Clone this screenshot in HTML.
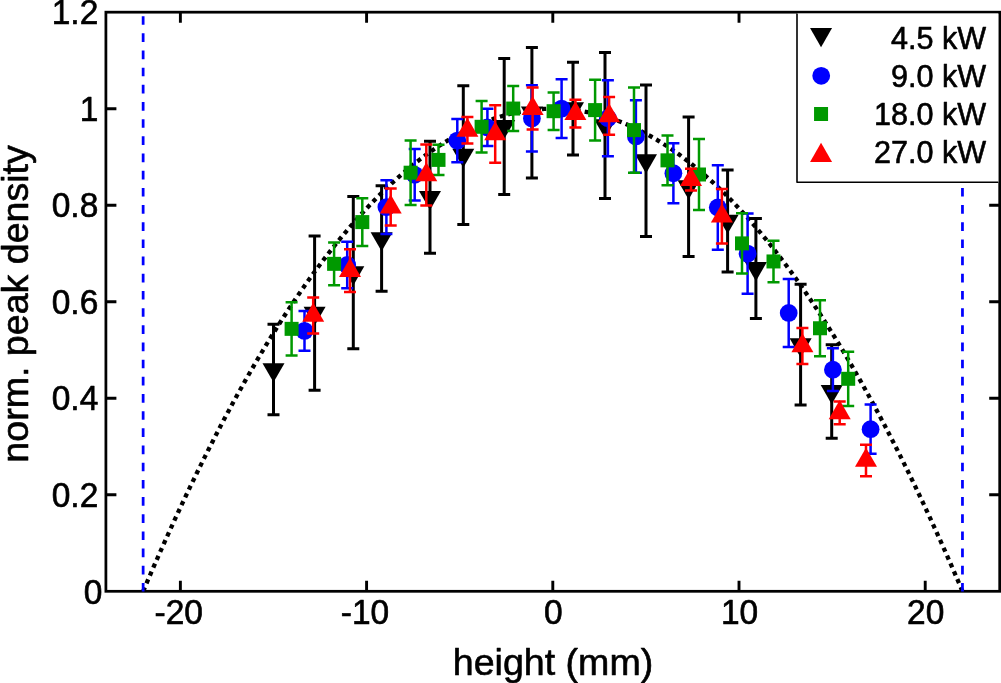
<!DOCTYPE html>
<html><head><meta charset="utf-8"><title>norm. peak density vs height</title>
<style>html,body{margin:0;padding:0;background:#fff;overflow:hidden}svg{display:block}</style></head>
<body>
<svg width="1001" height="683" viewBox="0 0 1001 683" font-family="'Liberation Sans', sans-serif" fill="#000">
<rect width="1001" height="683" fill="#fff"/>
<rect x="105.90" y="12.18" width="893.81" height="579.12" fill="none" stroke="#000" stroke-width="2.75"/>
<path d="M180.38 591.3v-10.5M180.38 12.18v10.5M366.59 591.3v-10.5M366.59 12.18v10.5M552.80 591.3v-10.5M552.80 12.18v10.5M739.01 591.3v-10.5M739.01 12.18v10.5M925.22 591.3v-10.5M105.90 494.78h10.5M999.70 494.78h-10.5M105.90 398.26h10.5M999.70 398.26h-10.5M105.90 301.74h10.5M999.70 301.74h-10.5M105.90 205.22h10.5M999.70 205.22h-10.5M105.90 108.70h10.5" stroke="#000" stroke-width="2.9" fill="none"/>
<polyline points="143.14,591.30 145.19,586.49 147.23,581.70 149.28,576.93 151.33,572.19 153.38,567.47 155.43,562.78 157.48,558.11 159.52,553.46 161.57,548.84 163.62,544.25 165.67,539.67 167.72,535.13 169.77,530.60 171.81,526.10 173.86,521.62 175.91,517.17 177.96,512.74 180.01,508.34 182.06,503.96 184.10,499.61 186.15,495.27 188.20,490.97 190.25,486.68 192.30,482.43 194.35,478.19 196.39,473.98 198.44,469.79 200.49,465.63 202.54,461.49 204.59,457.38 206.64,453.29 208.68,449.22 210.73,445.18 212.78,441.16 214.83,437.17 216.88,433.20 218.93,429.25 220.97,425.33 223.02,421.44 225.07,417.56 227.12,413.72 229.17,409.89 231.22,406.09 233.26,402.31 235.31,398.56 237.36,394.83 239.41,391.13 241.46,387.45 243.51,383.79 245.55,380.16 247.60,376.56 249.65,372.97 251.70,369.41 253.75,365.88 255.80,362.37 257.84,358.88 259.89,355.42 261.94,351.98 263.99,348.56 266.04,345.17 268.08,341.81 270.13,338.47 272.18,335.15 274.23,331.85 276.28,328.58 278.33,325.34 280.37,322.12 282.42,318.92 284.47,315.75 286.52,312.60 288.57,309.47 290.62,306.37 292.66,303.30 294.71,300.24 296.76,297.22 298.81,294.21 300.86,291.23 302.91,288.28 304.95,285.34 307.00,282.44 309.05,279.55 311.10,276.69 313.15,273.86 315.20,271.05 317.24,268.26 319.29,265.50 321.34,262.76 323.39,260.04 325.44,257.35 327.49,254.69 329.53,252.04 331.58,249.43 333.63,246.83 335.68,244.26 337.73,241.72 339.78,239.20 341.82,236.70 343.87,234.22 345.92,231.78 347.97,229.35 350.02,226.95 352.07,224.57 354.11,222.22 356.16,219.89 358.21,217.59 360.26,215.31 362.31,213.05 364.36,210.82 366.40,208.61 368.45,206.43 370.50,204.27 372.55,202.13 374.60,200.02 376.65,197.93 378.69,195.87 380.74,193.83 382.79,191.82 384.84,189.83 386.89,187.86 388.94,185.92 390.98,184.00 393.03,182.10 395.08,180.23 397.13,178.39 399.18,176.57 401.23,174.77 403.27,172.99 405.32,171.24 407.37,169.52 409.42,167.82 411.47,166.14 413.51,164.49 415.56,162.86 417.61,161.26 419.66,159.67 421.71,158.12 423.76,156.59 425.80,155.08 427.85,153.59 429.90,152.13 431.95,150.70 434.00,149.29 436.05,147.90 438.09,146.54 440.14,145.20 442.19,143.88 444.24,142.59 446.29,141.32 448.34,140.08 450.38,138.86 452.43,137.67 454.48,136.50 456.53,135.35 458.58,134.23 460.63,133.13 462.67,132.06 464.72,131.01 466.77,129.98 468.82,128.98 470.87,128.00 472.92,127.05 474.96,126.12 477.01,125.22 479.06,124.34 481.11,123.48 483.16,122.65 485.21,121.84 487.25,121.05 489.30,120.29 491.35,119.56 493.40,118.85 495.45,118.16 497.50,117.50 499.54,116.86 501.59,116.24 503.64,115.65 505.69,115.08 507.74,114.54 509.79,114.02 511.83,113.53 513.88,113.06 515.93,112.61 517.98,112.19 520.03,111.79 522.08,111.41 524.12,111.06 526.17,110.74 528.22,110.44 530.27,110.16 532.32,109.91 534.37,109.68 536.41,109.47 538.46,109.29 540.51,109.13 542.56,109.00 544.61,108.89 546.66,108.81 548.70,108.75 550.75,108.71 552.80,108.70 554.85,108.71 556.90,108.75 558.94,108.81 560.99,108.89 563.04,109.00 565.09,109.13 567.14,109.29 569.19,109.47 571.23,109.68 573.28,109.91 575.33,110.16 577.38,110.44 579.43,110.74 581.48,111.06 583.52,111.41 585.57,111.79 587.62,112.19 589.67,112.61 591.72,113.06 593.77,113.53 595.81,114.02 597.86,114.54 599.91,115.08 601.96,115.65 604.01,116.24 606.06,116.86 608.10,117.50 610.15,118.16 612.20,118.85 614.25,119.56 616.30,120.29 618.35,121.05 620.39,121.84 622.44,122.65 624.49,123.48 626.54,124.34 628.59,125.22 630.64,126.12 632.68,127.05 634.73,128.00 636.78,128.98 638.83,129.98 640.88,131.01 642.93,132.06 644.97,133.13 647.02,134.23 649.07,135.35 651.12,136.50 653.17,137.67 655.22,138.86 657.26,140.08 659.31,141.32 661.36,142.59 663.41,143.88 665.46,145.20 667.51,146.54 669.55,147.90 671.60,149.29 673.65,150.70 675.70,152.13 677.75,153.59 679.80,155.08 681.84,156.59 683.89,158.12 685.94,159.67 687.99,161.26 690.04,162.86 692.09,164.49 694.13,166.14 696.18,167.82 698.23,169.52 700.28,171.24 702.33,172.99 704.37,174.77 706.42,176.57 708.47,178.39 710.52,180.23 712.57,182.10 714.62,184.00 716.66,185.92 718.71,187.86 720.76,189.83 722.81,191.82 724.86,193.83 726.91,195.87 728.95,197.93 731.00,200.02 733.05,202.13 735.10,204.27 737.15,206.43 739.20,208.61 741.24,210.82 743.29,213.05 745.34,215.31 747.39,217.59 749.44,219.89 751.49,222.22 753.53,224.57 755.58,226.95 757.63,229.35 759.68,231.78 761.73,234.22 763.78,236.70 765.82,239.20 767.87,241.72 769.92,244.26 771.97,246.83 774.02,249.43 776.07,252.04 778.11,254.69 780.16,257.35 782.21,260.04 784.26,262.76 786.31,265.50 788.36,268.26 790.40,271.05 792.45,273.86 794.50,276.69 796.55,279.55 798.60,282.44 800.65,285.34 802.69,288.28 804.74,291.23 806.79,294.21 808.84,297.22 810.89,300.24 812.94,303.30 814.98,306.37 817.03,309.47 819.08,312.60 821.13,315.75 823.18,318.92 825.23,322.12 827.27,325.34 829.32,328.58 831.37,331.85 833.42,335.15 835.47,338.47 837.52,341.81 839.56,345.17 841.61,348.56 843.66,351.98 845.71,355.42 847.76,358.88 849.80,362.37 851.85,365.88 853.90,369.41 855.95,372.97 858.00,376.56 860.05,380.16 862.09,383.79 864.14,387.45 866.19,391.13 868.24,394.83 870.29,398.56 872.34,402.31 874.38,406.09 876.43,409.89 878.48,413.72 880.53,417.56 882.58,421.44 884.63,425.33 886.67,429.25 888.72,433.20 890.77,437.17 892.82,441.16 894.87,445.18 896.92,449.22 898.96,453.29 901.01,457.38 903.06,461.49 905.11,465.63 907.16,469.79 909.21,473.98 911.25,478.19 913.30,482.43 915.35,486.68 917.40,490.97 919.45,495.27 921.50,499.61 923.54,503.96 925.59,508.34 927.64,512.74 929.69,517.17 931.74,521.62 933.79,526.10 935.83,530.60 937.88,535.13 939.93,539.67 941.98,544.25 944.03,548.84 946.08,553.46 948.12,558.11 950.17,562.78 952.22,567.47 954.27,572.19 956.32,576.93 958.37,581.70 960.41,586.49 962.46,591.30" fill="none" stroke="#000" stroke-width="4.3" stroke-dasharray="4.3 4.277"/>
<line x1="143.14" y1="591.60" x2="143.14" y2="12.18" stroke="#0000ff" stroke-width="2.75" stroke-dasharray="8.65 8.526"/>
<line x1="962.46" y1="591.60" x2="962.46" y2="183.50" stroke="#0000ff" stroke-width="2.75" stroke-dasharray="8.65 8.526"/>
<g stroke="#000" stroke-width="3.0" fill="none">
<path d="M273.50 324.20V414.80M267.50 324.20H279.50M267.50 414.80H279.50M314.60 236.10V390.20M308.60 236.10H320.60M308.60 390.20H320.60M353.30 196.60V348.80M347.30 196.60H359.30M347.30 348.80H359.30M381.60 185.70V291.30M375.60 185.70H387.60M375.60 291.30H387.60M430.00 141.20V253.30M424.00 141.20H436.00M424.00 253.30H436.00M463.30 85.70V224.50M457.30 85.70H469.30M457.30 224.50H469.30M504.20 58.40V194.40M498.20 58.40H510.20M498.20 194.40H510.20M531.90 47.60V177.90M525.90 47.60H537.90M525.90 177.90H537.90M573.00 62.30V155.00M567.00 62.30H579.00M567.00 155.00H579.00M605.00 52.60V198.50M599.00 52.60H611.00M599.00 198.50H611.00M646.00 85.00V236.40M640.00 85.00H652.00M640.00 236.40H652.00M688.60 116.90V256.50M682.60 116.90H694.60M682.60 256.50H694.60M727.60 170.00V272.10M721.60 170.00H733.60M721.60 272.10H733.60M755.90 218.50V318.40M749.90 218.50H761.90M749.90 318.40H761.90M800.60 284.30V405.10M794.60 284.30H806.60M794.60 405.10H806.60M831.70 344.70V438.20M825.70 344.70H837.70M825.70 438.20H837.70"/></g>
<polygon points="262.50,363.15 284.50,363.15 273.50,382.20" fill="#000"/>
<polygon points="303.60,306.80 325.60,306.80 314.60,325.85" fill="#000"/>
<polygon points="342.30,266.35 364.30,266.35 353.30,285.40" fill="#000"/>
<polygon points="370.60,232.15 392.60,232.15 381.60,251.20" fill="#000"/>
<polygon points="419.00,190.90 441.00,190.90 430.00,209.95" fill="#000"/>
<polygon points="452.30,148.75 474.30,148.75 463.30,167.80" fill="#000"/>
<polygon points="493.20,120.05 515.20,120.05 504.20,139.10" fill="#000"/>
<polygon points="520.90,106.40 542.90,106.40 531.90,125.45" fill="#000"/>
<polygon points="562.00,102.30 584.00,102.30 573.00,121.35" fill="#000"/>
<polygon points="594.00,119.20 616.00,119.20 605.00,138.25" fill="#000"/>
<polygon points="635.00,154.35 657.00,154.35 646.00,173.40" fill="#000"/>
<polygon points="677.60,180.35 699.60,180.35 688.60,199.40" fill="#000"/>
<polygon points="716.60,214.70 738.60,214.70 727.60,233.75" fill="#000"/>
<polygon points="744.90,262.10 766.90,262.10 755.90,281.15" fill="#000"/>
<polygon points="789.60,338.35 811.60,338.35 800.60,357.40" fill="#000"/>
<polygon points="820.70,385.10 842.70,385.10 831.70,404.15" fill="#000"/>
<g stroke="#0000ff" stroke-width="2.5" fill="none">
<path d="M304.50 311.00V350.70M298.50 311.00H310.50M298.50 350.70H310.50M347.20 241.80V288.20M341.20 241.80H353.20M341.20 288.20H353.20M386.40 180.20V234.00M380.40 180.20H392.40M380.40 234.00H392.40M414.70 149.00V200.60M408.70 149.00H420.70M408.70 200.60H420.70M457.30 119.00V162.20M451.30 119.00H463.30M451.30 162.20H463.30M487.40 108.80V146.10M481.40 108.80H493.40M481.40 146.10H493.40M531.90 85.20V151.60M525.90 85.20H537.90M525.90 151.60H537.90M561.60 79.20V138.10M555.60 79.20H567.60M555.60 138.10H567.60M607.90 80.20V156.20M601.90 80.20H613.90M601.90 156.20H613.90M635.90 100.20V172.70M629.90 100.20H641.90M629.90 172.70H641.90M673.40 143.20V203.30M667.40 143.20H679.40M667.40 203.30H679.40M717.80 165.20V249.70M711.80 165.20H723.80M711.80 249.70H723.80M747.60 213.40V293.80M741.60 213.40H753.60M741.60 293.80H753.60M788.70 278.90V347.00M782.70 278.90H794.70M782.70 347.00H794.70M832.90 348.30V391.10M826.90 348.30H838.90M826.90 391.10H838.90M870.60 404.60V453.80M864.60 404.60H876.60M864.60 453.80H876.60"/></g>
<circle cx="304.50" cy="330.85" r="8.9" fill="#0000ff"/>
<circle cx="347.20" cy="265.00" r="8.9" fill="#0000ff"/>
<circle cx="386.40" cy="207.10" r="8.9" fill="#0000ff"/>
<circle cx="414.70" cy="174.80" r="8.9" fill="#0000ff"/>
<circle cx="457.30" cy="140.60" r="8.9" fill="#0000ff"/>
<circle cx="487.40" cy="127.45" r="8.9" fill="#0000ff"/>
<circle cx="531.90" cy="118.40" r="8.9" fill="#0000ff"/>
<circle cx="561.60" cy="108.65" r="8.9" fill="#0000ff"/>
<circle cx="607.90" cy="118.20" r="8.9" fill="#0000ff"/>
<circle cx="635.90" cy="136.45" r="8.9" fill="#0000ff"/>
<circle cx="673.40" cy="173.25" r="8.9" fill="#0000ff"/>
<circle cx="717.80" cy="207.45" r="8.9" fill="#0000ff"/>
<circle cx="747.60" cy="253.60" r="8.9" fill="#0000ff"/>
<circle cx="788.70" cy="312.95" r="8.9" fill="#0000ff"/>
<circle cx="832.90" cy="369.70" r="8.9" fill="#0000ff"/>
<circle cx="870.60" cy="429.20" r="8.9" fill="#0000ff"/>
<g stroke="#009900" stroke-width="2.5" fill="none">
<path d="M291.60 302.30V355.40M285.60 302.30H297.60M285.60 355.40H297.60M334.10 242.40V285.30M328.10 242.40H340.10M328.10 285.30H340.10M362.30 198.30V245.90M356.30 198.30H368.30M356.30 245.90H368.30M410.60 140.50V204.90M404.60 140.50H416.60M404.60 204.90H416.60M438.50 144.80V175.00M432.50 144.80H444.50M432.50 175.00H444.50M481.60 101.00V152.60M475.60 101.00H487.60M475.60 152.60H487.60M513.20 86.00V131.10M507.20 86.00H519.20M507.20 131.10H519.20M553.60 92.50V129.90M547.60 92.50H559.60M547.60 129.90H559.60M595.10 79.70V140.50M589.10 79.70H601.10M589.10 140.50H601.10M634.00 87.40V172.80M628.00 87.40H640.00M628.00 172.80H640.00M667.50 135.40V185.30M661.50 135.40H673.50M661.50 185.30H673.50M699.00 139.10V209.90M693.00 139.10H705.00M693.00 209.90H705.00M742.00 213.20V273.60M736.00 213.20H748.00M736.00 273.60H748.00M773.50 240.70V282.20M767.50 240.70H779.50M767.50 282.20H779.50M820.00 300.20V356.30M814.00 300.20H826.00M814.00 356.30H826.00M848.20 351.70V405.90M842.20 351.70H854.20M842.20 405.90H854.20"/></g>
<rect x="284.60" y="321.85" width="14" height="14" fill="#009900"/>
<rect x="327.10" y="256.85" width="14" height="14" fill="#009900"/>
<rect x="355.30" y="215.10" width="14" height="14" fill="#009900"/>
<rect x="403.60" y="165.70" width="14" height="14" fill="#009900"/>
<rect x="431.50" y="152.90" width="14" height="14" fill="#009900"/>
<rect x="474.60" y="119.80" width="14" height="14" fill="#009900"/>
<rect x="506.20" y="101.55" width="14" height="14" fill="#009900"/>
<rect x="546.60" y="104.20" width="14" height="14" fill="#009900"/>
<rect x="588.10" y="103.10" width="14" height="14" fill="#009900"/>
<rect x="627.00" y="123.10" width="14" height="14" fill="#009900"/>
<rect x="660.50" y="153.35" width="14" height="14" fill="#009900"/>
<rect x="692.00" y="167.50" width="14" height="14" fill="#009900"/>
<rect x="735.00" y="236.40" width="14" height="14" fill="#009900"/>
<rect x="766.50" y="254.45" width="14" height="14" fill="#009900"/>
<rect x="813.00" y="321.25" width="14" height="14" fill="#009900"/>
<rect x="841.20" y="371.80" width="14" height="14" fill="#009900"/>
<g stroke="#ff0000" stroke-width="2.5" fill="none">
<path d="M313.20 297.50V333.40M307.20 297.50H319.20M307.20 333.40H319.20M350.00 249.30V292.00M344.00 249.30H356.00M344.00 292.00H356.00M390.70 188.60V225.60M384.70 188.60H396.70M384.70 225.60H396.70M426.30 144.40V205.60M420.30 144.40H432.30M420.30 205.60H432.30M467.40 117.10V143.60M461.40 117.10H473.40M461.40 143.60H473.40M495.20 105.30V162.70M489.20 105.30H501.20M489.20 162.70H501.20M532.60 87.60V129.60M526.60 87.60H538.60M526.60 129.60H538.60M575.40 99.70V127.50M569.40 99.70H581.40M569.40 127.50H581.40M609.10 97.00V134.70M603.10 97.00H615.10M603.10 134.70H615.10M691.00 168.80V190.50M685.00 168.80H697.00M685.00 190.50H697.00M721.90 188.90V243.40M715.90 188.90H727.90M715.90 243.40H727.90M802.40 328.00V364.00M796.40 328.00H808.40M796.40 364.00H808.40M839.70 401.40V424.20M833.70 401.40H845.70M833.70 424.20H845.70M866.00 444.80V476.20M860.00 444.80H872.00M860.00 476.20H872.00"/></g>
<polygon points="302.20,321.80 324.20,321.80 313.20,302.75" fill="#ff0000"/>
<polygon points="339.00,277.00 361.00,277.00 350.00,257.95" fill="#ff0000"/>
<polygon points="379.70,213.45 401.70,213.45 390.70,194.40" fill="#ff0000"/>
<polygon points="415.30,181.35 437.30,181.35 426.30,162.30" fill="#ff0000"/>
<polygon points="456.40,136.70 478.40,136.70 467.40,117.65" fill="#ff0000"/>
<polygon points="484.20,140.35 506.20,140.35 495.20,121.30" fill="#ff0000"/>
<polygon points="521.60,114.95 543.60,114.95 532.60,95.90" fill="#ff0000"/>
<polygon points="564.40,119.95 586.40,119.95 575.40,100.90" fill="#ff0000"/>
<polygon points="598.10,122.20 620.10,122.20 609.10,103.15" fill="#ff0000"/>
<polygon points="680.00,186.00 702.00,186.00 691.00,166.95" fill="#ff0000"/>
<polygon points="710.90,222.50 732.90,222.50 721.90,203.45" fill="#ff0000"/>
<polygon points="791.40,352.35 813.40,352.35 802.40,333.30" fill="#ff0000"/>
<polygon points="828.70,419.15 850.70,419.15 839.70,400.10" fill="#ff0000"/>
<polygon points="855.00,466.85 877.00,466.85 866.00,447.80" fill="#ff0000"/>
<text transform="translate(178.78,624.00) scale(1,1.03)" font-size="33.5px" text-anchor="middle" stroke="#000" stroke-width="0.62" stroke-linejoin="round">-20</text>
<text transform="translate(364.99,624.00) scale(1,1.03)" font-size="33.5px" text-anchor="middle" stroke="#000" stroke-width="0.62" stroke-linejoin="round">-10</text>
<text transform="translate(553.30,624.00) scale(1,1.03)" font-size="33.5px" text-anchor="middle" stroke="#000" stroke-width="0.62" stroke-linejoin="round">0</text>
<text transform="translate(739.51,624.00) scale(1,1.03)" font-size="33.5px" text-anchor="middle" stroke="#000" stroke-width="0.62" stroke-linejoin="round">10</text>
<text transform="translate(925.72,624.00) scale(1,1.03)" font-size="33.5px" text-anchor="middle" stroke="#000" stroke-width="0.62" stroke-linejoin="round">20</text>
<text transform="translate(102.30,603.90) scale(1,1.03)" font-size="33.5px" text-anchor="end" stroke="#000" stroke-width="0.62" stroke-linejoin="round">0</text>
<text transform="translate(98.30,506.78) scale(1,1.03)" font-size="33.5px" text-anchor="end" stroke="#000" stroke-width="0.62" stroke-linejoin="round">0.2</text>
<text transform="translate(98.30,410.26) scale(1,1.03)" font-size="33.5px" text-anchor="end" stroke="#000" stroke-width="0.62" stroke-linejoin="round">0.4</text>
<text transform="translate(98.30,313.74) scale(1,1.03)" font-size="33.5px" text-anchor="end" stroke="#000" stroke-width="0.62" stroke-linejoin="round">0.6</text>
<text transform="translate(98.30,217.22) scale(1,1.03)" font-size="33.5px" text-anchor="end" stroke="#000" stroke-width="0.62" stroke-linejoin="round">0.8</text>
<text transform="translate(98.30,120.70) scale(1,1.03)" font-size="33.5px" text-anchor="end" stroke="#000" stroke-width="0.62" stroke-linejoin="round">1</text>
<text transform="translate(98.30,24.18) scale(1,1.03)" font-size="33.5px" text-anchor="end" stroke="#000" stroke-width="0.62" stroke-linejoin="round">1.2</text>
<text transform="translate(553.00,674.90) scale(1,1.0)" font-size="37.6px" text-anchor="middle" stroke="#000" stroke-width="0.62" stroke-linejoin="round">height (mm)</text>
<text transform="translate(28.30,303.90) rotate(-90) scale(1,1.0)" font-size="37.6px" text-anchor="middle" stroke="#000" stroke-width="0.62" stroke-linejoin="round">norm. peak density</text>
<rect x="797" y="13.55" width="201.33" height="168.75" fill="#fff"/>
<path d="M797 13.55V182.3H998.33" fill="none" stroke="#000" stroke-width="1.6" stroke-linecap="butt" stroke-linejoin="round"/>
<polygon points="810.05,28.10 832.05,28.10 821.05,47.15" fill="#000"/>
<circle cx="821.20" cy="75.80" r="8.9" fill="#0000ff"/>
<rect x="814.05" y="107.00" width="14" height="14" fill="#009900"/>
<polygon points="810.05,161.90 832.05,161.90 821.05,142.85" fill="#ff0000"/>
<text transform="translate(986.10,48.60) scale(1,1.035)" font-size="30.6px" text-anchor="end" stroke="#000" stroke-width="0.6" stroke-linejoin="round">4.5 kW</text>
<text transform="translate(986.10,86.63) scale(1,1.035)" font-size="30.6px" text-anchor="end" stroke="#000" stroke-width="0.6" stroke-linejoin="round">9.0 kW</text>
<text transform="translate(986.10,124.66) scale(1,1.035)" font-size="30.6px" text-anchor="end" stroke="#000" stroke-width="0.6" stroke-linejoin="round">18.0 kW</text>
<text transform="translate(986.10,162.70) scale(1,1.035)" font-size="30.6px" text-anchor="end" stroke="#000" stroke-width="0.6" stroke-linejoin="round">27.0 kW</text>
</svg>
</body></html>
